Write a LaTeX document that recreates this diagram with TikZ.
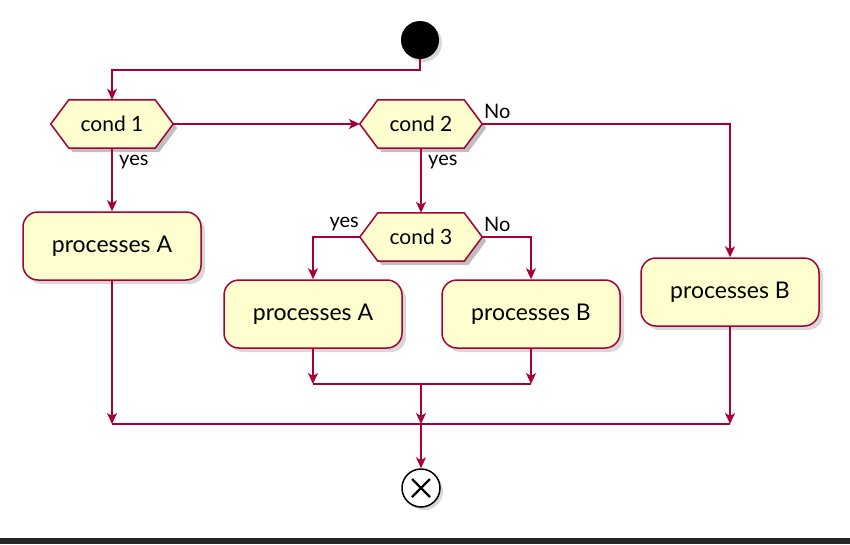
\documentclass[tikz,border=0pt]{standalone}
\usepackage{fontspec}
\setmainfont{Lato}
\usetikzlibrary{arrows.meta,shadows,calc}
\definecolor{bd}{HTML}{A80036}
\definecolor{fl}{HTML}{FEFECE}
\newcommand{\myhex}[1]{%
  \fill[black,opacity=0.25] ($(#1.west)+(4,4)$) -- ($(#1.north west)+(22,4)$) -- ($(#1.north east)+(-14,4)$) -- ($(#1.east)+(4,4)$) -- ($(#1.south east)+(-14,4)$) -- ($(#1.south west)+(22,4)$) -- cycle;
  \filldraw[draw=bd,fill=fl,line width=1.5pt,line join=round] (#1.west) -- ($(#1.north west)+(18,0)$) -- ($(#1.north east)+(-18,0)$) -- (#1.east) -- ($(#1.south east)+(-18,0)$) -- ($(#1.south west)+(18,0)$) -- cycle;}
\begin{document}
\begin{tikzpicture}[x=1pt,y=-1pt,
  line/.style={draw=bd,line width=1.5pt},
  arr/.style={line,-{Stealth[length=11pt,width=10pt,inset=3pt]}},
  box/.style={draw=bd,line width=1.5pt,fill=fl,rounded corners=15pt,minimum width=178pt,minimum height=68pt,font=\fontsize{23}{27}\selectfont,drop shadow={shadow xshift=4pt,shadow yshift=-4pt,opacity=0.3}},
  hex/.style={minimum width=122pt,minimum height=48pt,inner sep=0pt,font=\fontsize{21}{25}\selectfont},
  lab/.style={font=\fontsize{20}{24}\selectfont,inner sep=1pt}]
\useasboundingbox (0,0) rectangle (850,544);
\fill[white] (0,0) rectangle (850,544);
\fill[black!85] (0,538) rectangle (850,544);
\node[circle,fill=black,minimum size=38pt,inner sep=0,drop shadow={shadow xshift=3pt,shadow yshift=-3pt,opacity=0.3}] (start) at (420,40) {};
\node[hex] (c1) at (112,124) {};
\node[hex] (c2) at (421,124) {};
\node[hex] (c3) at (421,237) {};
\myhex{c1}\myhex{c2}\myhex{c3}
\node[hex] (t1) at (c1) {cond 1};
\node[hex] (t2) at (c2) {cond 2};
\node[hex] (t3) at (c3) {cond 3};
\node[box] (pa1) at (112,246) {processes A};
\node[box] (pa2) at (313,314) {processes A};
\node[box] (pb2) at (531,314) {processes B};
\node[box] (pb3) at (730,292) {processes B};
\node[circle,draw=black,line width=1.5pt,fill=white,minimum size=38pt,inner sep=0,drop shadow={shadow xshift=3pt,shadow yshift=-3pt,opacity=0.3}] (end) at (421,488) {};
\draw[line width=2.2pt] ($(end)+(-9,-9)$) -- ($(end)+(9,9)$);
\draw[line width=2.2pt] ($(end)+(9,-9)$) -- ($(end)+(-9,9)$);
\coordinate (m1) at (420,70);
\coordinate (m2) at (112,70);
\draw[arr] (start) -- (m1) -- (m2) -- (c1);
\draw[arr] (c1) -- (c2);
\coordinate (n1) at (730,124);
\draw[arr] (c2.east) -- (n1) -- (pb3);
\draw[arr] (c1) -- (pa1);
\draw[arr] (c2) -- (c3);
\coordinate (l3) at (313,237);
\coordinate (r3) at (531,237);
\draw[arr] (c3.west) -- (l3) -- (pa2);
\draw[arr] (c3.east) -- (r3) -- (pb2);
\coordinate (ja) at (313,384);
\coordinate (jb) at (531,384);
\coordinate (jm) at (421,384);
\coordinate (ka) at (112,424);
\coordinate (kb) at (730,424);
\coordinate (km) at (421,424);
\draw[arr] (pa2) -- (ja);
\draw[arr] (pb2) -- (jb);
\draw[line] (ja) -- (jb);
\draw[arr] (jm) -- (km);
\draw[arr] (pa1) -- (ka);
\draw[arr] (pb3) -- (kb);
\draw[line] (ka) -- (kb);
\draw[arr] (km) -- (end);
\node[lab,anchor=west] (y1) at (118,162) {yes};
\node[lab,anchor=west] (y2) at (427,162) {yes};
\node[lab,anchor=east] (y3) at (360,224) {yes};
\node[lab,anchor=west] (n2) at (483,111) {No};
\node[lab,anchor=west] (n3) at (483,224) {No};
\end{tikzpicture}
\end{document}
